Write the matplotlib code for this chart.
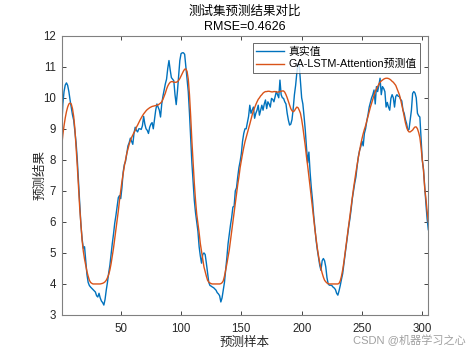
import matplotlib
matplotlib.use("Agg")
import matplotlib.pyplot as plt
import numpy as np

plt.rcParams['font.family'] = ['Liberation Sans', 'Noto Sans CJK SC', 'DejaVu Sans']

title_text = "测试集预测结果对比"
rmse_text = "RMSE=0.4626"
xlabel_text = "预测样本"
ylabel_text = "预测结果"
legend_labels = ["真实值", "GA-LSTM-Attention预测值"]
xticks = [50, 100, 150, 200, 250, 300]
yticks = [3, 4, 5, 6, 7, 8, 9, 10, 11, 12]

true_vals = [
    8.96, 9.80, 10.20, 10.41, 10.48, 10.40, 10.20, 9.93, 9.70, 9.45,
    9.28, 8.90, 8.55, 8.00, 7.30, 6.60, 5.90, 5.45, 5.15, 5.20,
    4.75, 4.30, 4.05, 3.95, 3.90, 3.86, 3.82, 3.78, 3.74, 3.62,
    3.58, 3.70, 3.55, 3.45, 3.40, 3.32, 3.50, 3.80, 4.05, 4.35,
    4.60, 4.95, 5.30, 5.60, 5.95, 6.20, 6.50, 6.78, 6.85, 6.75,
    7.10, 7.60, 7.85, 7.95, 8.20, 8.45, 8.55, 8.70, 8.60, 8.50,
    8.85, 9.05, 8.95, 8.90, 9.00, 9.00, 8.98, 9.10, 9.40, 9.15,
    9.00, 8.95, 8.85, 9.05, 9.15, 9.20, 9.00, 9.30, 9.60, 9.80,
    9.70, 9.60, 9.38, 9.80, 10.05, 10.25, 10.45, 10.60, 10.95, 11.20,
    10.90, 10.65, 10.60, 10.55, 10.10, 9.78, 10.20, 10.70, 11.20, 11.42,
    11.45, 11.45, 11.40, 11.00, 10.60, 10.20, 9.50, 8.70, 7.90, 7.30,
    6.70, 6.30, 6.00, 5.70, 5.20, 4.90, 4.67, 4.95, 5.00, 4.95,
    4.67, 4.35, 4.05, 3.95, 3.93, 3.90, 3.88, 3.84, 3.80, 3.72,
    3.68, 3.62, 3.42, 3.55, 3.80, 4.05, 4.45, 4.85, 5.30, 5.60,
    5.90, 6.15, 6.48, 6.50, 7.00, 7.10, 7.45, 7.75, 7.95, 8.20,
    8.60, 8.85, 9.00, 9.00, 9.20, 9.40, 9.76, 9.50, 9.60, 9.70,
    9.34, 9.50, 9.60, 9.76, 9.44, 9.60, 9.76, 9.60, 9.80, 9.93,
    9.65, 9.87, 9.80, 9.70, 9.98, 9.95, 9.87, 10.04, 10.20, 10.10,
    10.00, 10.57, 10.10, 10.00, 9.98, 9.87, 9.80, 9.50, 9.28, 9.12,
    9.15, 9.30, 9.65, 10.10, 10.40, 10.80, 11.10, 11.05, 10.50, 10.00,
    9.80, 9.40, 8.96, 8.40, 7.90, 8.25, 7.60, 7.10, 6.70, 6.20,
    5.80, 5.40, 5.10, 4.85, 4.60, 4.44, 4.75, 4.82, 4.75, 4.55,
    4.20, 4.00, 3.96, 3.96, 3.95, 3.90, 3.87, 3.82, 3.70, 3.64,
    3.78, 3.95, 4.15, 4.33, 4.65, 4.95, 5.25, 5.55, 5.85, 6.10,
    6.40, 6.75, 7.00, 7.25, 7.45, 7.80, 8.10, 8.30, 8.42, 8.60,
    8.45, 8.85, 9.00, 9.25, 9.45, 9.70, 9.85, 10.00, 10.10, 10.25,
    9.80, 10.36, 10.20, 10.40, 10.63, 10.10, 10.36, 10.30, 10.20, 9.70,
    9.85, 9.70, 9.60, 9.98, 10.10, 10.00, 9.70, 10.04, 10.10, 10.05,
    10.04, 9.95, 9.90, 9.60, 9.50, 9.30, 9.17, 8.96, 8.98, 9.30,
    9.60, 10.14, 10.20, 10.15, 10.00, 9.50, 9.42, 9.38, 8.70, 8.00,
    7.70, 7.13, 6.60, 6.10, 5.75,
]

pred_vals = [
    8.42, 8.80, 9.10, 9.35, 9.55, 9.70, 9.80, 9.83, 9.80, 9.65,
    9.40, 9.00, 8.40, 7.80, 7.10, 6.45, 5.90, 5.40, 5.05, 4.80,
    4.60, 4.40, 4.25, 4.12, 4.05, 4.02, 4.00, 4.00, 4.00, 4.00,
    4.00, 4.00, 4.00, 4.01, 4.02, 4.04, 4.07, 4.12, 4.20, 4.30,
    4.45, 4.65, 4.90, 5.15, 5.45, 5.75, 6.05, 6.35, 6.70, 7.00,
    7.30, 7.55, 7.80, 8.00, 8.20, 8.35, 8.50, 8.62, 8.72, 8.80,
    8.88, 8.95, 9.05, 9.12, 9.20, 9.28, 9.35, 9.42, 9.48, 9.53,
    9.58, 9.62, 9.65, 9.68, 9.70, 9.72, 9.73, 9.74, 9.75, 9.76,
    9.77, 9.80, 9.83, 9.87, 9.95, 10.05, 10.15, 10.28, 10.38, 10.45,
    10.50, 10.52, 10.52, 10.50, 10.50, 10.50, 10.52, 10.56, 10.62, 10.70,
    10.78, 10.86, 10.92, 10.93, 10.85, 10.60, 10.10, 9.40, 8.60, 7.90,
    7.25, 6.70, 6.25, 5.95, 5.65, 5.30, 5.05, 4.80, 4.55, 4.40,
    4.25, 4.12, 4.06, 4.03, 4.01, 4.00, 4.00, 4.00, 4.00, 4.00,
    4.00, 4.00, 4.01, 4.04, 4.10, 4.25, 4.45, 4.65, 4.87, 5.10,
    5.40, 5.70, 6.00, 6.30, 6.60, 6.90, 7.20, 7.45, 7.75, 7.98,
    8.20, 8.40, 8.58, 8.72, 8.85, 9.00, 9.15, 9.30, 9.45, 9.58,
    9.68, 9.78, 9.87, 9.95, 10.00, 10.06, 10.10, 10.15, 10.18, 10.20,
    10.20, 10.21, 10.21, 10.20, 10.19, 10.19, 10.20, 10.20, 10.19, 10.18,
    10.19, 10.20, 10.21, 10.22, 10.22, 10.18, 10.10, 10.00, 9.88, 9.75,
    9.65, 9.58, 9.55, 9.58, 9.65, 9.70, 9.68, 9.60, 9.50, 9.30,
    9.05, 8.75, 8.45, 8.10, 7.80, 7.45, 7.13, 6.80, 6.45, 6.10,
    5.75, 5.45, 5.15, 4.90, 4.68, 4.50, 4.35, 4.22, 4.12, 4.07,
    4.03, 4.01, 4.00, 4.00, 4.00, 4.00, 4.00, 4.00, 4.00, 4.00,
    4.02, 4.10, 4.25, 4.45, 4.70, 5.00, 5.30, 5.60, 5.90, 6.20,
    6.50, 6.80, 7.08, 7.35, 7.60, 7.85, 8.08, 8.30, 8.50, 8.68,
    8.84, 8.98, 9.10, 9.25, 9.40, 9.55, 9.70, 9.82, 9.95, 10.08,
    10.20, 10.28, 10.36, 10.44, 10.50, 10.54, 10.57, 10.60, 10.62, 10.63,
    10.63, 10.62, 10.60, 10.57, 10.53, 10.50, 10.45, 10.40, 10.30, 10.20,
    10.10, 9.95, 9.78, 9.60, 9.40, 9.20, 9.05, 8.95, 8.90, 8.90,
    8.93, 8.96, 9.02, 9.06, 9.06, 9.00, 8.88, 8.72, 8.40, 8.00,
    7.67, 7.10, 6.75, 6.35, 6.00,
]

samples = np.arange(1, len(true_vals) + 1)

fig = plt.figure(figsize=(4.74, 3.55), dpi=100)
ax = fig.add_axes([0.130, 0.1127, 0.7736, 0.7867])

ax.plot(samples, true_vals, color='#0072BD', lw=1.0, label=legend_labels[0])
ax.plot(samples, pred_vals, color='#D95319', lw=1.0, label=legend_labels[1])

ax.set_xlim(1, len(true_vals))
ax.set_ylim(3, 12)
ax.set_xticks(xticks)
ax.set_yticks(yticks)

axcol = '#262626'
for s in ax.spines.values():
    s.set_color('#808080')
    s.set_linewidth(0.8)
ax.tick_params(direction='in', length=3, width=0.6, top=True, right=True,
               labelsize=8.3, colors=axcol, pad=4)
ax.tick_params(axis='x', pad=6)

ax.set_xlabel(xlabel_text, fontsize=9, color=axcol, labelpad=1)
ax.set_ylabel(ylabel_text, fontsize=9, color=axcol)
ax.yaxis.set_label_coords(-0.04, 0.5)
ax.set_title(title_text + "\n" + rmse_text, fontsize=9, color='#000000',
             pad=4, linespacing=1.35)

leg = ax.legend(loc='upper right', bbox_to_anchor=(0.977, 0.973),
                borderaxespad=0, fontsize=7.8, frameon=True, fancybox=False,
                handlelength=2.6, handletextpad=0.4, borderpad=0.3,
                labelspacing=0.25)
leg.get_frame().set_edgecolor('#262626')
leg.get_frame().set_linewidth(0.6)

fig.text(0.982, 0.025, "CSDN @机器学习之心", ha='right', va='bottom',
         fontsize=8, color='#a0a0a0')

fig.savefig('out.png', dpi=100)
